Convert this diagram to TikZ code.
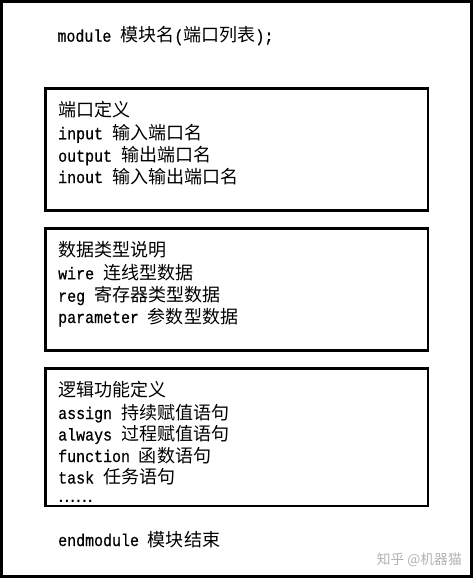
\documentclass[tikz,border=0pt]{standalone}
\usepackage{fontspec}
\setmainfont{Liberation Mono}[FakeStretch=0.88, FakeBold=0.6]
\newfontfamily\cjk[Scale=1.06]{Noto Sans CJK SC}
\newfontfamily\dotfont{Liberation Sans}
\newcommand{\zh}[1]{{\cjk #1}}
\tikzset{
  frame/.style={draw, line width=2.6pt},
  codeline/.style={anchor=base west, inner sep=0pt, font=\fontsize{17}{20}\selectfont},
  watermark/.style={anchor=base east, inner sep=0pt, text=black!30, font=\cjk\fontsize{13}{15}\selectfont}
}
\begin{document}
\begin{tikzpicture}[x=1pt,y=-1pt]
      \useasboundingbox (0,0) rectangle (474,578);
      % frames
      \draw[frame] (1.4,1.4) rectangle (471.3,576.6);
      \draw[frame] (45.3,88.7) rectangle (428,210.7);
      \draw[frame] (45.3,228.7) rectangle (428,350.7);
      \draw[frame] (45.3,368.7) rectangle (428,506);
      % header
      \node[codeline] (head) at (57.3,41.7) {module \zh{模块名}(\zh{端口列表});};
      % ports
      \node[codeline] (port) at (58,116.7) {\zh{端口定义}};
      \node[codeline] (input) at (58,139.3) {input \zh{输入端口名}};
      \node[codeline] (output) at (58,161.7) {output \zh{输出端口名}};
      \node[codeline] (inout) at (58,183) {inout \zh{输入输出端口名}};
      % data types
      \node[codeline] (types) at (58,256.7) {\zh{数据类型说明}};
      \node[codeline] (wire) at (58,279.3) {wire \zh{连线型数据}};
      \node[codeline] (reg) at (58,301.7) {reg \zh{寄存器类型数据}};
      \node[codeline] (param) at (58,323) {parameter \zh{参数型数据}};
      % logic
      \node[codeline] (logic) at (58,396.7) {\zh{逻辑功能定义}};
      \node[codeline] (assign) at (58,419) {assign \zh{持续赋值语句}};
      \node[codeline] (always) at (58,440.5) {always \zh{过程赋值语句}};
      \node[codeline] (func) at (58,462) {function \zh{函数语句}};
      \node[codeline] (task) at (58,483.5) {task \zh{任务语句}};
      \node[codeline] (dots) at (58,502) {\dotfont\fontsize{21}{22}\selectfont ......};
      % end
      \node[codeline] (tail) at (58,546) {endmodule \zh{模块结束}};
      \node[watermark] (zhihu) at (462,564) {知乎 @机器猫};
    \end{tikzpicture}
\end{document}
